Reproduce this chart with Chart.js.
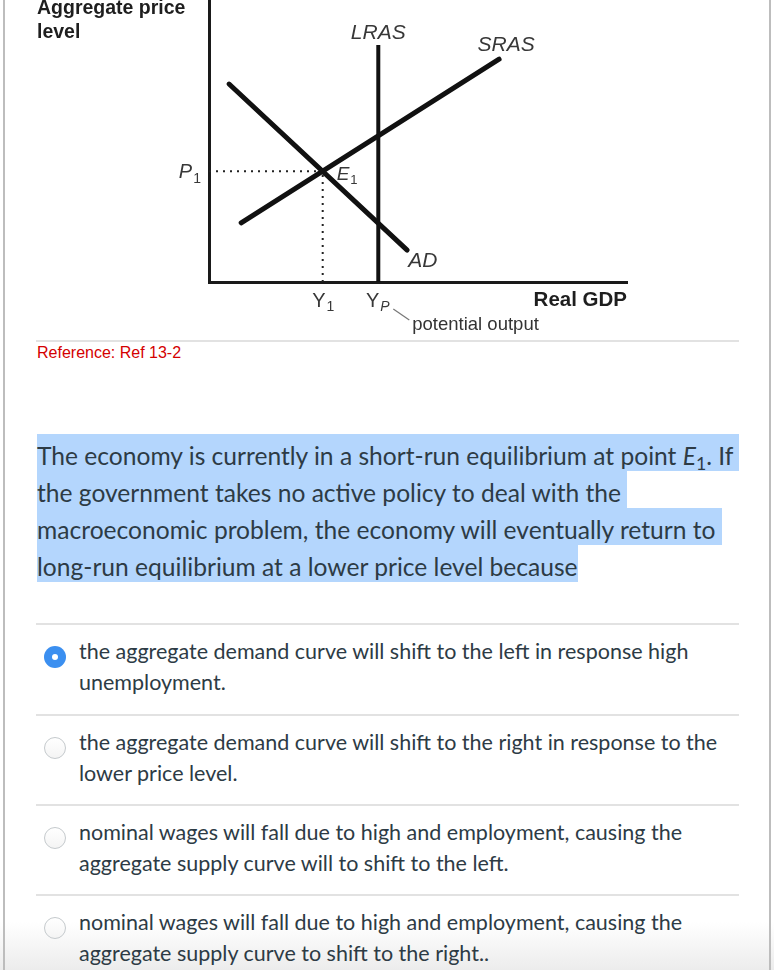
<!DOCTYPE html>
<html>
<head>
<meta charset="utf-8">
<script src="https://cdn.jsdelivr.net/npm/chart.js@4.4.1/dist/chart.umd.min.js"></script>
<style>
  html, body { margin: 0; padding: 0; background: #fff; }
  body { width: 774px; height: 970px; position: relative; overflow: hidden; font-family: "Liberation Sans", Arial, sans-serif; }
  #chart { position: absolute; left: 0; top: 0; }
  .edge { position: absolute; top: 0; width: 2px; height: 970px; background: #bdbdbd; }
  .rule { position: absolute; left: 36px; width: 703px; height: 2px; background: #e2e2e2; }
  .ref { position: absolute; left: 37px; top: 343px; font-size: 16px; line-height: 20px; color: #d40000; }
  .question { position: absolute; left: 37px; top: 437px; width: 730px; font-family: Lato, sans-serif; font-size: 24.6px; line-height: 37px; color: #2d3b45; white-space: nowrap; }
  .question .hl { background: #b4d6fd; padding: 7px 0 1px 0; }
  .question sub { font-size: 0.72em; vertical-align: -0.3em; line-height: 0; }
  .otext { position: absolute; left: 79px; font-family: Lato, sans-serif; font-size: 21.5px; line-height: 31px; color: #2d3b45; white-space: nowrap; }
  .radio { position: absolute; left: 44px; width: 22px; height: 22px; border-radius: 50%; box-sizing: border-box; }
  .radio.off { border: 1.5px solid #c5cacd; background: linear-gradient(#fff, #f4f4f4); }
  .radio.on { background: #3b8ff0; }
  .radio.on::after { content: ""; position: absolute; left: 8px; top: 8px; width: 6px; height: 6px; border-radius: 50%; background: #fff; }
  .fade { position: absolute; left: 0; top: 922px; width: 774px; height: 48px; background: linear-gradient(rgba(235,235,235,0), rgba(228,228,228,0.7)); }
</style>
</head>
<body>
<div class="fade"></div>
<canvas id="chart" width="774" height="340"></canvas>
<div class="rule" style="top:340px"></div>
<div class="ref">Reference: Ref 13-2</div>

<div class="question"><span class="hl">The economy is currently in a short-run equilibrium at point <i>E</i><sub>1</sub>. If&nbsp;</span><br><span class="hl">the government takes no active policy to deal with the&nbsp;</span><br><span class="hl">macroeconomic problem, the economy will eventually return to&nbsp;</span><br><span class="hl">long-run equilibrium at a lower price level because</span></div>

<div class="rule" style="top:623px"></div>
<div class="radio on" style="top:646px"></div>
<div class="otext" style="top:636px">the aggregate demand curve will shift to the left in response high<br>unemployment.</div>

<div class="rule" style="top:714px"></div>
<div class="radio off" style="top:737px"></div>
<div class="otext" style="top:727px">the aggregate demand curve will shift to the right in response to the<br>lower price level.</div>

<div class="rule" style="top:804px"></div>
<div class="radio off" style="top:827px"></div>
<div class="otext" style="top:817px">nominal wages will fall due to high and employment, causing the<br>aggregate supply curve will to shift to the left.</div>

<div class="rule" style="top:894px"></div>
<div class="radio off" style="top:917px"></div>
<div class="otext" style="top:907px">nominal wages will fall due to high and employment, causing the<br>aggregate supply curve to shift to the right..</div>

<div class="edge" style="left:3px"></div>
<div class="edge" style="left:769px"></div>

<script>
// AD-AS diagram, values in index units (real GDP 0-100, price level 0-100)
const lrasGdp = [40.5, 40.5];
const lrasPrice = [0, 84];
const srasGdp = [7.7, 69.4];
const srasPrice = [21, 79];
const adGdp = [4.8, 47.4];
const adPrice = [70.2, 11.3];
const e1Point = [27.2, 39.3]; // [gdp, price] short-run equilibrium

const FONT = '"Liberation Sans", Arial, sans-serif';

const toPoints = (xs, ys) => xs.map((v, i) => ({ x: v, y: ys[i] }));

function subText(ctx, main, sub, x, y, align, size, mainItalic, subItalic) {
  const mainFont = (mainItalic ? 'italic ' : '') + size + 'px ' + FONT;
  const subFont = (subItalic ? 'italic ' : '') + Math.round(size * 0.7) + 'px ' + FONT;
  ctx.font = mainFont;
  const w1 = ctx.measureText(main).width;
  ctx.font = subFont;
  const w2 = ctx.measureText(sub).width;
  let left = x;
  if (align === 'center') left = x - (w1 + w2) / 2;
  if (align === 'right') left = x - w1 - w2;
  ctx.textAlign = 'left';
  ctx.font = mainFont;
  ctx.fillText(main, left, y);
  ctx.font = subFont;
  ctx.fillText(sub, left + w1 + 1, y + size * 0.22);
}

const labelPlugin = {
  id: 'adasLabels',
  afterDraw(chart) {
    const { ctx, chartArea } = chart;
    const xs = chart.scales.x, ys = chart.scales.y;
    const px = v => xs.getPixelForValue(v);
    const py = v => ys.getPixelForValue(v);
    ctx.save();
    ctx.textBaseline = 'alphabetic';

    // axis titles
    ctx.fillStyle = '#1e1e1e';
    ctx.textAlign = 'left';
    ctx.font = 'bold 19.5px ' + FONT;
    ctx.fillText('Aggregate price', 37, 14);
    ctx.fillText('level', 37, 38);
    ctx.textAlign = 'right';
    ctx.font = 'bold 20.5px ' + FONT;
    ctx.fillText('Real GDP', chartArea.right, chartArea.bottom + 24);

    // curve labels
    ctx.fillStyle = '#383838';
    ctx.font = 'italic 21px ' + FONT;
    ctx.textAlign = 'center';
    ctx.fillText('LRAS', px(lrasGdp[1]), py(lrasPrice[1]) - 6);
    ctx.fillText('SRAS', px(srasGdp[1]) + 7, py(srasPrice[1]) - 8);
    ctx.textAlign = 'left';
    ctx.fillText('AD', px(adGdp[1]) + 1, py(adPrice[1]) + 17);

    subText(ctx, 'E', '1', px(e1Point[0]) + 14, py(e1Point[1]) + 9, 'left', 19, true, false);
    subText(ctx, 'P', '1', chartArea.left - 9, py(e1Point[1]) + 7, 'right', 20, true, false);
    subText(ctx, 'Y', '1', px(e1Point[0]), chartArea.bottom + 25, 'center', 20, false, false);
    subText(ctx, 'Y', 'P', px(lrasGdp[0]) - 1, chartArea.bottom + 25, 'center', 20, false, true);

    // potential output note
    const yp = px(lrasGdp[0]);
    ctx.strokeStyle = '#777';
    ctx.lineWidth = 1.2;
    ctx.beginPath();
    ctx.moveTo(yp + 15, chartArea.bottom + 27);
    ctx.lineTo(yp + 31, chartArea.bottom + 38);
    ctx.stroke();
    ctx.fillStyle = '#333';
    ctx.textAlign = 'left';
    ctx.font = '18.5px ' + FONT;
    ctx.fillText('potential output', yp + 34, chartArea.bottom + 48);
    ctx.restore();
  }
};

const curve = (pts, width) => ({
  data: pts,
  showLine: true,
  borderColor: '#111',
  borderWidth: width,
  borderCapStyle: 'round',
  pointRadius: 0,
  clip: false
});
const guide = pts => ({
  data: pts,
  showLine: true,
  borderColor: '#222',
  borderWidth: 2,
  borderDash: [2, 5],
  borderCapStyle: 'butt',
  pointRadius: 0
});

new Chart(document.getElementById('chart'), {
  type: 'scatter',
  data: {
    datasets: [
      curve(toPoints(adGdp, adPrice), 5),
      curve(toPoints(srasGdp, srasPrice), 5),
      Object.assign(curve(toPoints(lrasGdp, lrasPrice), 4), { borderCapStyle: 'butt' }),
      guide([{ x: 0, y: e1Point[1] }, { x: e1Point[0], y: e1Point[1] }]),
      guide([{ x: e1Point[0], y: 0 }, { x: e1Point[0], y: e1Point[1] }])
    ]
  },
  options: {
    responsive: false,
    animation: false,
    events: [],
    layout: { padding: { left: 209, right: 147, top: 0, bottom: 58 } },
    plugins: { legend: { display: false }, tooltip: { enabled: false } },
    scales: {
      x: {
        type: 'linear', min: 0, max: 100,
        grid: { display: false, drawTicks: false },
        ticks: { display: false },
        border: { display: true, color: '#1a1a1a', width: 3 }
      },
      y: {
        type: 'linear', min: 0, max: 100,
        grid: { display: false, drawTicks: false },
        ticks: { display: false },
        border: { display: true, color: '#1a1a1a', width: 3 }
      }
    }
  },
  plugins: [labelPlugin]
});
</script>
</body>
</html>
